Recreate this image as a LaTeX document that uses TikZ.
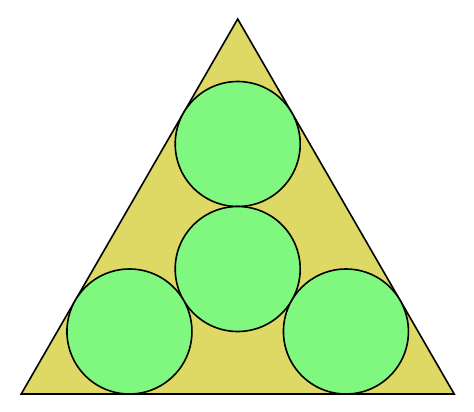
\documentclass[tikz,border=0pt]{standalone}
\begin{document}
\begin{tikzpicture}[x=1pt,y=-1pt,
  tri/.style={draw=black, line width=1.6pt, fill=triyellow, line join=miter},
  ball/.style={circle, draw=black, line width=1.6pt, fill=ballgreen, minimum size=125pt, inner sep=0pt, outer sep=0pt}]
\definecolor{triyellow}{RGB}{222,216,100}
\definecolor{ballgreen}{RGB}{128,248,128}
\useasboundingbox (0,0) rectangle (474,412);
\coordinate (A) at (237.7,19);
\coordinate (B) at (21.2,394);
\coordinate (C) at (454.2,394);
\draw[tri] (A) -- (B) -- (C) -- cycle;
\node[ball] (top) at (237.7,144) {};
\node[ball] (mid) at (237.7,269) {};
\node[ball] (left) at (129.45,331.5) {};
\node[ball] (right) at (345.95,331.5) {};
\end{tikzpicture}
\end{document}
